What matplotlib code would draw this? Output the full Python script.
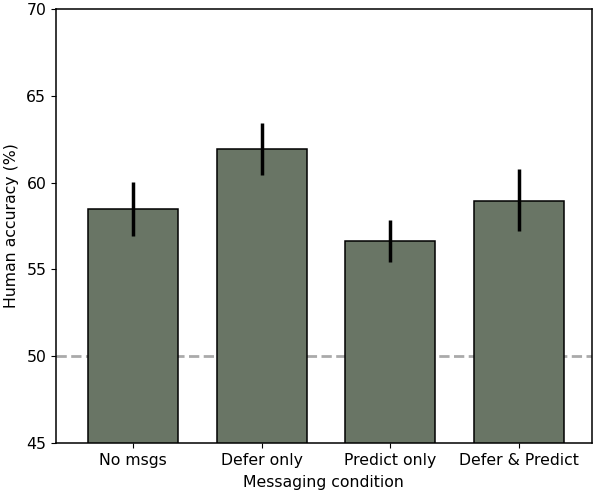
import numpy as np
import matplotlib.pyplot as plt

conditions = ['No msgs', 'Defer only', 'Predict only', 'Defer & Predict']
accuracy = [58.45, 61.95, 56.65, 58.95]
ci_low = [56.9, 60.45, 55.45, 57.2]
ci_high = [60.05, 63.45, 57.85, 60.8]

acc = np.array(accuracy)
yerr = [acc - np.array(ci_low), np.array(ci_high) - acc]

plt.rcParams['font.size'] = 11.3
plt.rcParams['axes.linewidth'] = 1.1

fig, ax = plt.subplots(figsize=(5.96, 4.95), dpi=100)
x = np.arange(len(conditions))
ax.bar(x, acc, width=0.7, color='#697565', edgecolor='black', linewidth=1.1,
       yerr=yerr, error_kw=dict(ecolor='black', elinewidth=2.5, capsize=0))
ax.axhline(50, color='#aaaaaa', linestyle='--', linewidth=2, zorder=0.5)

ax.set_xticks(x)
ax.set_xticklabels(conditions)
ax.set_ylim(45, 70)
ax.set_xlim(-0.6, 3.57)
ax.set_xlabel('Messaging condition', labelpad=5)
ax.set_ylabel('Human accuracy (%)', labelpad=5)

plt.subplots_adjust(left=0.094, right=0.993, top=0.982, bottom=0.105)
plt.savefig('out.png')
